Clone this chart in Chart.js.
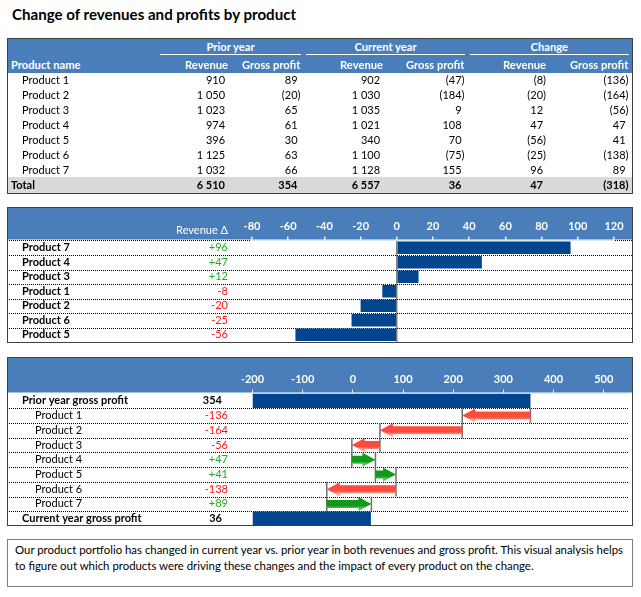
<!DOCTYPE html>
<html>
<head>
<meta charset="utf-8">
<script src="https://cdn.jsdelivr.net/npm/chart.js@4.4.0/dist/chart.umd.min.js"></script>
<style>
  body { margin: 0; background: #fff; font-family: Lato, sans-serif; color: #000; }
  #page { position: relative; width: 641px; height: 597px; overflow: hidden; }
  .t { position: absolute; line-height: 16px; height: 16px; white-space: nowrap; font-size: 11px; }
  .ph { visibility: hidden; }
  .box { position: absolute; left: 7px; width: 626px; border: 1.5px solid #404040; box-sizing: border-box; z-index: 5; }
  canvas { position: absolute; left: 7px; }
  #title { position: absolute; left: 12px; top: 5px; font-size: 15.1px; font-weight: bold; }
  #note { position: absolute; left: 7px; top: 539px; width: 626px; height: 48px; box-sizing: border-box;
          border: 1.5px solid #7f7f7f; padding: 2px 0 0 7px; font-size: 11.4px; line-height: 15.5px; white-space: nowrap; }
</style>
</head>
<body>
<div id="page">
  <div id="title">Change of revenues and profits by product</div>
  <div class="box" style="top:38px;height:156px"></div>
  <div class="box" style="top:207px;height:136px"></div>
  <div class="box" style="top:357px;height:169px"></div>
  <canvas id="revChart" width="625" height="134" style="top:208px"></canvas>
  <canvas id="gpChart" width="625" height="168" style="top:358px"></canvas>
  <div id="note">Our product portfolio has changed in current year vs. prior year in both revenues and gross profit. This visual analysis helps<br>to figure out which products were driving these changes and the impact of every product on the change.</div>
</div>
<script>
// DATA
const products = ['Product 1', 'Product 2', 'Product 3', 'Product 4', 'Product 5', 'Product 6', 'Product 7'];
const revPrior = [910, 1050, 1023, 974, 396, 1125, 1032];
const gpPrior = [89, -20, 65, 61, 30, 63, 66];
const revCurrent = [902, 1030, 1035, 1021, 340, 1100, 1128];
const gpCurrent = [-47, -184, 9, 108, 70, -75, 155];
const revChange = [-8, -20, 12, 47, -56, -25, 96];
const gpChange = [-136, -164, -56, 47, 41, -138, 89];
const totalRow = [6510, 354, 6557, 36, 47, -318];
const groupHeaders = ['Prior year', 'Current year', 'Change'];
const colHeaders = ['Revenue', 'Gross profit', 'Revenue', 'Gross profit', 'Revenue', 'Gross profit'];
const revAxis = [-80, 120, 20];   // min, max, step
const gpAxis = [-200, 550, 100];
const gpStartLabel = 'Prior year gross profit';
const gpEndLabel = 'Current year gross profit';

const BLUE_HEAD = '#4a7ebb';
const BAR_BLUE = '#02458f';
const GREEN = '#17b01c';
const RED = '#ff1414';
const FONT = 'Lato, sans-serif';

//TABLE
const page = document.getElementById('page');
function div(html, style) {
  const d = document.createElement('div');
  d.className = 't';
  d.innerHTML = html;
  Object.assign(d.style, style);
  page.appendChild(d);
  return d;
}
function rtext(html, right, cy, style) {
  return div(html, Object.assign({ left: '0px', width: right + 'px', textAlign: 'right', top: (cy - 8) + 'px' }, style || {}));
}
function fmt(v) {
  const s = String(Math.abs(v)).replace(/\B(?=(\d{3})+(?!\d))/g, ' ');
  return v < 0 ? '(' + s + ')' : s + '<span class="ph">)</span>';
}

const head = document.createElement('div');
Object.assign(head.style, { position: 'absolute', left: '8px', top: '39px', width: '624px', height: '34px', background: BLUE_HEAD });
page.appendChild(head);
const totalBand = document.createElement('div');
Object.assign(totalBand.style, { position: 'absolute', left: '8px', top: '177px', width: '624px', height: '16px', background: '#d9d9d9' });
page.appendChild(totalBand);

const colRight = [228, 300.5, 383, 464.5, 546, 628.5];
const groupSpan = [[160, 301], [306, 465], [470, 628.5]];
const white = { color: '#fff', fontWeight: 'bold', fontSize: '11.2px' };
groupHeaders.forEach((g, i) => {
  const [a, b] = groupSpan[i];
  div(g, Object.assign({ left: a + 'px', width: (b - a) + 'px', textAlign: 'center', top: '39px' }, white));
  const u = document.createElement('div');
  Object.assign(u.style, { position: 'absolute', left: a + 'px', width: (b - a) + 'px', top: '54px', height: '1px', background: '#fff' });
  page.appendChild(u);
});
div('Product name', Object.assign({ left: '11px', top: '57px' }, white));
colHeaders.forEach((h, c) => rtext(h, colRight[c], 65, white));

const cols = [revPrior, gpPrior, revCurrent, gpCurrent, revChange, gpChange];
products.forEach((p, i) => {
  const cy = 80 + 15 * i;
  div(p, { left: '22px', top: (cy - 8) + 'px' });
  cols.forEach((col, c) => rtext(fmt(col[i]), colRight[c], cy));
});
div('Total', { left: '11px', top: '177px', fontWeight: 'bold' });
totalRow.forEach((v, c) => rtext(fmt(v), colRight[c], 185, { fontWeight: 'bold' }));

//SHARED
function dotted(ctx, x1, x2, y) {
  ctx.save();
  ctx.strokeStyle = '#000';
  ctx.lineWidth = 1;
  ctx.setLineDash([1, 1]);
  ctx.beginPath();
  ctx.moveTo(x1, Math.round(y) + 0.5);
  ctx.lineTo(x2, Math.round(y) + 0.5);
  ctx.stroke();
  ctx.restore();
}
function signed(v) { return (v > 0 ? '+' : '') + v; }

//REVENUE CHART
const revRows = products.map((p, i) => ({ name: p, v: revChange[i] })).sort((a, b) => b.v - a.v);

const revPlugin = {
  id: 'revRows',
  beforeDraw(chart) {
    const { ctx, chartArea } = chart;
    ctx.save();
    ctx.fillStyle = BLUE_HEAD;
    ctx.fillRect(0, 0, chart.width, chartArea.top - 1);
    ctx.restore();
  },
  beforeDatasetsDraw(chart) {
    const { ctx, chartArea, scales } = chart;
    const y = scales.y;
    const half = (y.getPixelForValue(1) - y.getPixelForValue(0)) / 2;
    dotted(ctx, 0, chartArea.left - 2, chartArea.top - 0.5);
    dotted(ctx, chartArea.right + 1, chart.width, chartArea.top - 0.5);
    for (let i = 0; i < revRows.length - 1; i++) {
      dotted(ctx, 0, chart.width, y.getPixelForValue(i) + half);
    }
  },
  afterDraw(chart) {
    const { ctx, scales } = chart;
    const y = scales.y;
    ctx.save();
    ctx.textBaseline = 'middle';
    ctx.fillStyle = '#fff';
    ctx.font = '11px ' + FONT;
    ctx.textAlign = 'right';
    ctx.fillText('Revenue Δ', 221, 22);
    revRows.forEach((r, i) => {
      const py = y.getPixelForValue(i);
      ctx.textAlign = 'left';
      ctx.fillStyle = '#000';
      ctx.font = 'bold 11px ' + FONT;
      ctx.fillText(r.name, 15, py);
      ctx.textAlign = 'right';
      ctx.fillStyle = r.v >= 0 ? GREEN : RED;
      ctx.font = '11px ' + FONT;
      ctx.fillText(signed(r.v), 221, py);
    });
    ctx.restore();
  }
};

new Chart(document.getElementById('revChart'), {
  type: 'bar',
  data: {
    labels: revRows.map(r => r.name),
    datasets: [{
      data: revRows.map(r => r.v),
      backgroundColor: BAR_BLUE,
      borderWidth: 0,
      barPercentage: 0.87,
      categoryPercentage: 1
    }]
  },
  options: {
    indexAxis: 'y',
    responsive: false,
    animation: false,
    layout: { padding: { left: 245, right: 18, top: 9.3, bottom: 0 } },
    plugins: { legend: { display: false }, tooltip: { enabled: false } },
    scales: {
      x: {
        position: 'top',
        min: revAxis[0],
        max: revAxis[1],
        ticks: { stepSize: revAxis[2], color: '#fff', padding: 3, font: { family: FONT, size: 11, weight: 'bold' } },
        grid: {
          color: c => (c.tick && c.tick.value === 0 ? '#7f7f7f' : 'rgba(0,0,0,0)'),
          lineWidth: 1.5,
          tickColor: '#e8eef6',
          tickLength: 4
        },
        border: { color: '#dce4ef', width: 1 }
      },
      y: { display: false }
    }
  },
  plugins: [revPlugin]
});

//GROSS PROFIT WATERFALL
const gpLabels = [gpStartLabel, ...products, gpEndLabel];
const gpSteps = [];
let running = totalRow[1];
gpChange.forEach(d => { gpSteps.push([running, running + d]); running += d; });
const gpBars = [[gpAxis[0], totalRow[1]], ...products.map(() => null), [gpAxis[0], totalRow[3]]];
const gpArrows = [null, ...gpSteps, null];

function arrow(ctx, xs, xe, y, color, light) {
  const dir = xe >= xs ? 1 : -1;
  const hl = Math.min(13, Math.abs(xe - xs));
  const xh = xe - dir * hl;
  const g = ctx.createLinearGradient(0, y - 7, 0, y + 7);
  g.addColorStop(0, color);
  g.addColorStop(0.62, color);
  g.addColorStop(0.8, light);
  g.addColorStop(1, light);
  ctx.fillStyle = g;
  ctx.beginPath();
  ctx.moveTo(xs, y - 4);
  ctx.lineTo(xh, y - 4);
  ctx.lineTo(xh, y - 7);
  ctx.lineTo(xe, y);
  ctx.lineTo(xh, y + 7);
  ctx.lineTo(xh, y + 4);
  ctx.lineTo(xs, y + 4);
  ctx.closePath();
  ctx.fill();
}

const gpPlugin = {
  id: 'gpRows',
  beforeDraw(chart) {
    const { ctx, chartArea } = chart;
    ctx.save();
    ctx.fillStyle = BLUE_HEAD;
    ctx.fillRect(0, 0, chart.width, chartArea.top - 1);
    ctx.restore();
  },
  beforeDatasetsDraw(chart) {
    const { ctx, chartArea, scales } = chart;
    const y = scales.y, x = scales.x;
    const half = (y.getPixelForValue(1) - y.getPixelForValue(0)) / 2;
    for (let i = 0; i < gpLabels.length - 1; i++) {
      dotted(ctx, 0, chartArea.right, y.getPixelForValue(i) + half);
    }
    ctx.save();
    ctx.strokeStyle = '#6f6f6f';
    ctx.lineWidth = 1.5;
    gpArrows.forEach((s, i) => {
      if (!s) return;
      const py = y.getPixelForValue(i);
      s.forEach(v => {
        const px = x.getPixelForValue(v);
        ctx.beginPath();
        ctx.moveTo(px, py - half);
        ctx.lineTo(px, py + half);
        ctx.stroke();
      });
    });
    ctx.restore();
  },
  afterDatasetsDraw(chart) {
    const { ctx, scales } = chart;
    const y = scales.y, x = scales.x;
    ctx.save();
    gpArrows.forEach((s, i) => {
      if (!s) return;
      const up = s[1] >= s[0];
      arrow(ctx, x.getPixelForValue(s[0]), x.getPixelForValue(s[1]), y.getPixelForValue(i),
        up ? '#0f9a1a' : '#ff4b3e', up ? '#5cbf62' : '#ff9c92');
    });
    ctx.restore();
  },
  afterDraw(chart) {
    const { ctx, scales } = chart;
    const y = scales.y;
    ctx.save();
    ctx.textBaseline = 'middle';
    gpLabels.forEach((lab, i) => {
      const py = y.getPixelForValue(i);
      const edge = i === 0 || i === gpLabels.length - 1;
      ctx.fillStyle = '#000';
      ctx.textAlign = 'left';
      ctx.font = (edge ? 'bold ' : '') + '11px ' + FONT;
      ctx.fillText(lab, edge ? 15 : 28, py);
      ctx.textAlign = 'right';
      if (edge) {
        ctx.fillText(String(i === 0 ? totalRow[1] : totalRow[3]), 215, py);
      } else {
        const d = gpChange[i - 1];
        ctx.fillStyle = d >= 0 ? GREEN : RED;
        ctx.fillText(signed(d), 221, py);
      }
    });
    ctx.restore();
  }
};

new Chart(document.getElementById('gpChart'), {
  type: 'bar',
  data: {
    labels: gpLabels,
    datasets: [
      { data: gpBars, backgroundColor: BAR_BLUE, borderWidth: 0, barPercentage: 0.97, categoryPercentage: 1, grouped: false },
      { data: gpArrows, backgroundColor: 'rgba(0,0,0,0)', borderWidth: 0, barPercentage: 0.9, categoryPercentage: 1, grouped: false }
    ]
  },
  options: {
    indexAxis: 'y',
    responsive: false,
    animation: false,
    layout: { padding: { left: 245.5, right: 3.2, top: 12.3, bottom: 0 } },
    plugins: { legend: { display: false }, tooltip: { enabled: false } },
    scales: {
      x: {
        position: 'top',
        min: gpAxis[0],
        max: gpAxis[1],
        ticks: { stepSize: gpAxis[2], includeBounds: false, color: '#fff', padding: 3, font: { family: FONT, size: 11, weight: 'bold' } },
        grid: { drawOnChartArea: false, tickColor: '#e8eef6', tickLength: 4 },
        border: { color: '#dce4ef', width: 1 }
      },
      y: { display: false }
    }
  },
  plugins: [gpPlugin]
});
</script>
</body>
</html>
